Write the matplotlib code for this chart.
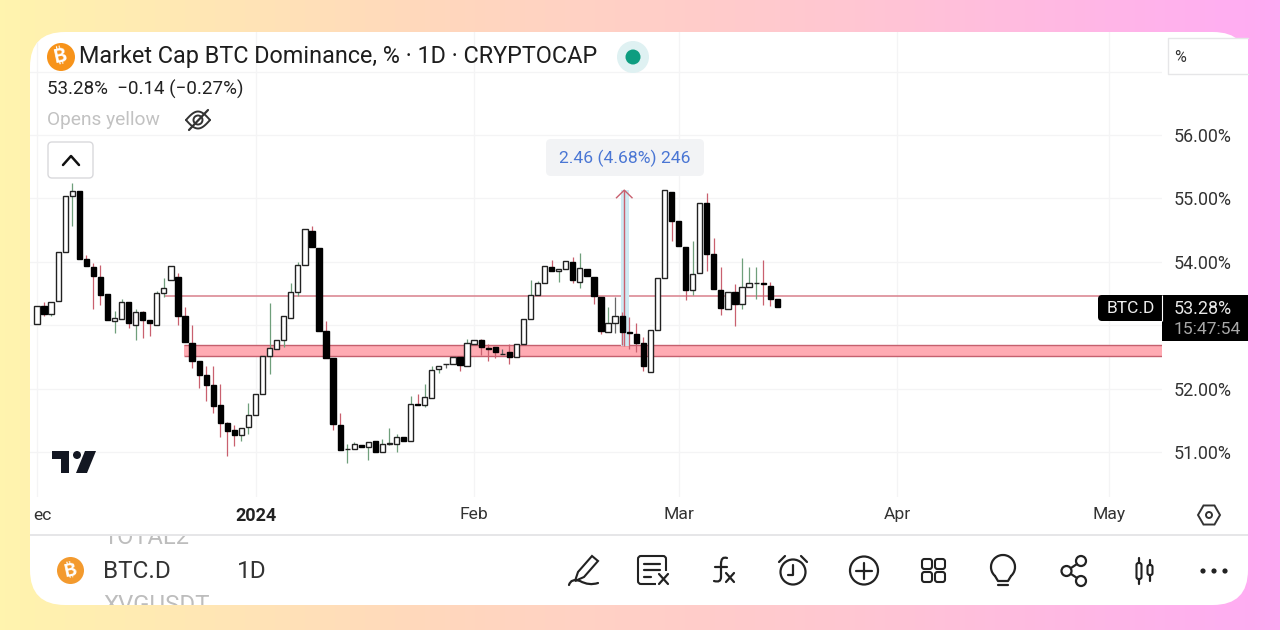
#BTC dominance candlestick screenshot
import numpy as np
import matplotlib
matplotlib.use('Agg')
import matplotlib.pyplot as plt
from matplotlib.colors import LinearSegmentedColormap
from matplotlib.patches import FancyBboxPatch, Circle, Polygon, Rectangle, RegularPolygon, Arc, PathPatch
from matplotlib.path import Path
from matplotlib.transforms import Bbox

plt.rcParams['font.family'] = ['Roboto', 'DejaVu Sans']
plt.rcParams['axes.unicode_minus'] = False
coin_fonts = ['Inter', 'Noto Sans', 'Open Sans', 'Lato', 'Liberation Sans', 'Noto Sans CJK SC', 'DejaVu Sans']

# data, one daily candle from 1 Dec 2023 onwards
opens = [53.02, 53.30, 53.17, 53.38, 54.16, 55.04, 55.11, 54.04, 53.92, 53.76, 53.49, 53.06, 53.09, 53.36, 53.00, 53.20,
         53.08, 53.01, 53.50, 53.71, 53.76, 53.15, 52.72, 52.43, 52.22, 52.05, 51.74, 51.45, 51.34, 51.26, 51.39, 51.59,
         51.91, 52.51, 52.62, 52.77, 53.11, 53.52, 53.95, 54.49, 54.22, 52.91, 52.48, 51.42, 51.04, 51.04, 51.11, 51.08,
         51.17, 51.00, 51.13, 51.12, 51.24, 51.17, 51.75, 51.74, 51.85, 52.31, 52.38, 52.38, 52.50, 52.36, 52.70, 52.76,
         52.64, 52.65, 52.55, 52.57, 52.50, 52.70, 53.09, 53.48, 53.66, 53.92, 53.85, 53.89, 53.99, 53.68, 53.89, 53.76,
         53.45, 52.90, 53.03, 53.14, 52.90, 52.86, 52.72, 52.26, 52.93, 53.75, 55.10, 54.64, 54.24, 53.55, 53.82, 54.92,
         54.12, 53.55, 53.26, 53.52, 53.33, 53.61, 53.67, 53.66, 53.62, 53.41]
highs = [53.30, 53.36, 53.37, 54.16, 55.03, 55.25, 55.11, 54.11, 53.98, 53.95, 53.49, 53.22, 53.41, 53.36, 53.25, 53.23,
         53.08, 53.54, 53.74, 53.93, 53.82, 53.29, 53.01, 52.43, 52.35, 52.36, 52.08, 51.48, 51.43, 51.38, 51.78, 51.91,
         52.51, 53.35, 52.76, 53.15, 53.66, 53.99, 54.52, 54.56, 54.22, 53.07, 52.48, 51.62, 51.12, 51.15, 51.11, 51.16,
         51.17, 51.20, 51.38, 51.28, 51.24, 51.88, 51.91, 52.07, 52.36, 52.36, 52.38, 52.50, 52.50, 52.78, 52.76, 52.78,
         52.71, 52.65, 52.63, 52.71, 52.71, 53.09, 53.72, 53.69, 53.93, 54.03, 53.89, 54.02, 54.07, 54.14, 53.89, 53.76,
         53.45, 53.29, 53.45, 53.21, 53.13, 53.03, 52.82, 52.92, 53.75, 55.13, 55.10, 54.64, 54.24, 54.32, 54.92, 55.08,
         54.38, 53.92, 53.53, 53.65, 54.06, 53.91, 53.91, 54.03, 53.68, 53.41]
lows = [53.02, 53.15, 53.15, 53.38, 54.16, 54.56, 54.05, 53.93, 53.25, 53.32, 53.08, 52.88, 53.09, 52.95, 52.76, 52.80,
        52.83, 53.01, 53.45, 53.71, 53.01, 52.73, 52.33, 52.01, 51.81, 51.61, 51.23, 50.94, 51.10, 51.18, 51.29, 51.59,
        51.91, 52.23, 52.62, 52.65, 53.11, 53.46, 53.95, 54.24, 52.91, 52.49, 51.34, 51.03, 50.82, 51.04, 51.08, 50.88,
        51.00, 51.00, 51.11, 51.00, 51.18, 51.17, 51.74, 51.71, 51.85, 52.24, 52.32, 52.38, 52.27, 52.36, 52.70, 52.53,
        52.44, 52.49, 52.55, 52.38, 52.50, 52.70, 53.09, 53.48, 53.66, 53.85, 53.68, 53.89, 53.66, 53.59, 53.78, 53.34,
        52.86, 52.90, 52.88, 52.69, 52.63, 52.58, 52.28, 52.26, 52.93, 53.75, 54.32, 54.25, 53.39, 53.47, 53.82, 53.86,
        53.57, 53.16, 53.26, 52.98, 53.25, 53.61, 53.41, 53.32, 53.30, 53.28]
closes = [53.30, 53.17, 53.37, 54.16, 55.03, 55.11, 54.05, 53.93, 53.77, 53.47, 53.08, 53.11, 53.36, 53.03, 53.21, 53.08,
          53.04, 53.51, 53.58, 53.93, 53.15, 52.73, 52.44, 52.22, 52.06, 51.73, 51.46, 51.33, 51.27, 51.38, 51.58, 51.91,
          52.51, 52.64, 52.76, 53.15, 53.53, 53.95, 54.52, 54.24, 52.91, 52.49, 51.44, 51.03, 51.05, 51.12, 51.08, 51.16,
          51.00, 51.12, 51.14, 51.23, 51.18, 51.76, 51.74, 51.87, 52.30, 52.36, 52.38, 52.50, 52.37, 52.72, 52.76, 52.65,
          52.63, 52.58, 52.55, 52.50, 52.71, 53.09, 53.48, 53.66, 53.93, 53.85, 53.89, 54.02, 53.71, 53.90, 53.78, 53.46,
          52.91, 53.04, 53.15, 52.90, 52.87, 52.72, 52.35, 52.92, 53.75, 55.13, 54.65, 54.25, 53.56, 53.80, 54.92, 54.13,
          53.57, 53.27, 53.53, 53.33, 53.61, 53.67, 53.67, 53.65, 53.41, 53.28]
grey_wicks = [58, 66, 82]

price_ticks = [51, 52, 53, 54, 55, 56, 57]
price_labels = ['51.00%', '52.00%', '', '54.00%', '55.00%', '56.00%', '']
month_ticks = [0, 31, 62, 91, 122, 152]
month_labels = ['', '2024', 'Feb', 'Mar', 'Apr', 'May']
line_level = 53.46
band_low, band_high = 52.52, 52.69
measure_low, measure_high = 52.67, 55.13

ink = '#131722'
red = '#c9606f'
green = '#6f9f7b'

fig = plt.figure(figsize=(12.8, 6.3), dpi=100)

# gradient page and the white rounded card, pixel coordinates
bg = fig.add_axes([0, 0, 1, 1], zorder=0)
bg.set_xlim(0, 1280)
bg.set_ylim(630, 0)
bg.axis('off')
cmap = LinearSegmentedColormap.from_list('page', ['#fff4ae', '#ffd8bc', '#ffc6d2', '#ffabf5'])
bg.imshow(np.linspace(0, 1, 256).reshape(1, -1), cmap=cmap, aspect='auto', extent=[0, 1280, 630, 0])
card = FancyBboxPatch((30, 32), 1218, 573, boxstyle='round,pad=0,rounding_size=35', mutation_scale=1,
                      fc='white', ec='none')
bg.add_patch(card)

# chart area, x is days since 1 Dec
ax = fig.add_axes([30 / 1280, 1 - 497 / 630, 1132 / 1280, 465 / 630], zorder=1)
ax.patch.set_alpha(0)
ax.set_xlim(-0.99, 159.57)
ax.set_ylim(50.29, 57.624)
for side in ax.spines.values():
    side.set_visible(False)
ax.yaxis.tick_right()
ax.set_yticks(price_ticks, price_labels)
ax.set_xticks(month_ticks, month_labels)
ax.tick_params(axis='y', length=0, pad=8.5, labelsize=12.9, labelcolor='#333333')
ax.tick_params(axis='x', length=0, pad=7.5, labelsize=12.6, labelcolor='#333333')
ax.get_xticklabels()[1].set_fontweight('bold')
ax.get_xticklabels()[1].set_fontsize(13)
ax.get_xticklabels()[1].set_color('#222222')
ax.grid(True, color='#f4f4f5', linewidth=0.9)
ax.set_axisbelow(True)
for line in ax.get_xgridlines() + ax.get_ygridlines():
    line.set_clip_path(card)

# drawn levels
ax.hlines(line_level, 18, 159.57, color='#d9808c', linewidth=1.1, zorder=2)
ax.add_patch(Rectangle((20.9, band_low), 138.67, band_high - band_low, fc='#ffabb3', ec='none', zorder=2))
ax.hlines([band_low, band_high], 20.9, 159.57, color='#c4606e', linewidth=1, zorder=2)

# measure arrow
ax.add_patch(Rectangle((82.84, measure_low), 1.17, measure_high - measure_low, fc='#cfeaf3', ec='none', zorder=2))
ax.vlines(83.3, measure_low, measure_high, color=red, linewidth=1, zorder=2)
ax.plot([82.2, 83.3, 84.4], [measure_high - 0.12, measure_high, measure_high - 0.12], color=red, linewidth=1, zorder=2)

# candles
x = np.arange(len(opens))
o = np.array(opens)
c = np.array(closes)
wick_colors = [green if c[i] >= o[i] else red for i in x]
for i in grey_wicks:
    wick_colors[i] = '#666666'
ax.vlines(x, lows, highs, colors=wick_colors, linewidth=0.9, zorder=3)
up = c >= o
ax.bar(x[up], (c - o)[up], bottom=o[up], width=0.74, color='white', edgecolor='#222222', linewidth=1, zorder=4)
ax.bar(x[~up], (c - o)[~up], bottom=o[~up], width=0.74, color='black', edgecolor='black', linewidth=1, zorder=4)

# everything else of the app window, pixel coordinates
ui = fig.add_axes([0, 0, 1, 1], zorder=2)
ui.set_xlim(0, 1280)
ui.set_ylim(630, 0)
ui.axis('off')


def label(px, py, s, size, color='#222222', **kw):
    kw.setdefault('ha', 'left')
    return ui.text(px, py, s, fontsize=size, color=color, va='center', **kw)


def stroke(xs, ys, lw=1.6, color='#222222'):
    ui.plot(xs, ys, color=color, linewidth=lw, solid_capstyle='round', solid_joinstyle='round')


def box(px, py, w, h, r, fc='none', ec='#222222', lw=1.5):
    ui.add_patch(FancyBboxPatch((px, py), w, h, boxstyle='round,pad=0,rounding_size=%s' % r, fc=fc, ec=ec, linewidth=lw))


def circ(px, py, r, fc='none', ec='#222222', lw=1.6):
    ui.add_patch(Circle((px, py), r, fc=fc, ec=ec, linewidth=lw))


def curve(points, lw=1.6):
    codes = [Path.MOVETO] + [Path.CURVE3] * (len(points) - 1)
    ui.add_patch(PathPatch(Path(points, codes), fc='none', ec='#222222', linewidth=lw, capstyle='round'))


# header
circ(61, 57, 14, fc='#f7931a', ec='none')
label(61, 57, '₿', 14, color='white', ha='center', rotation=12, fontweight='bold', family=coin_fonts)
label(79, 57, 'Market Cap BTC Dominance, % · 1D · CRYPTOCAP', 16.8, color='#1e1e1e')
label(47, 89, '53.28%  −0.14 (−0.27%)', 13.5)
label(47, 120, 'Opens yellow', 13.75, color='#c2c2c2')
circ(633, 57, 16, fc='#dff1f2', ec='none')
circ(633, 57, 7.5, fc='#0e9d80', ec='none')

# crossed eye
ts = np.linspace(0, 1, 30)
stroke(186 + 24 * ts, 120 - 8.5 * np.sin(np.pi * ts), lw=1.4, color='#333333')
stroke(186 + 24 * ts, 120 + 8.5 * np.sin(np.pi * ts), lw=1.4, color='#333333')
circ(198, 120, 4.5, ec='#333333', lw=1.4)
stroke([189, 208], [130, 110], lw=1.6, color='#333333')

# collapse button
box(48, 142, 45, 36, 4, fc='white', ec='#d9d9dc', lw=1)
stroke([63, 71, 79], [165, 156, 165], lw=1.8, color='#111111')

# percent box, open towards the card edge
ui.add_patch(Rectangle((1168, 38), 80, 36, fc='white', ec='none'))
stroke([1248, 1168, 1168, 1248], [38, 38, 74, 74], lw=1, color='#e6e6e8')
label(1174, 57, '%', 11.5, color='#333333')

# measure label
box(546, 139, 158, 37, 5, fc='#f2f3f5', ec='none', lw=0)
label(625, 158, '2.46 (4.68%) 246', 12.6, color='#4a76d4', ha='center')

# right side badges
box(1098, 295, 70, 26, 4, fc='black', ec='none', lw=0)
ui.add_patch(Rectangle((1162, 295), 86, 46, fc='black', ec='none'))
ui.vlines(1161.5, 295, 321, color='white', linewidth=0.8)
label(1107, 308.5, 'BTC.D', 12.5, color='#eeeeee')
label(1174, 308.5, '53.28%', 12.9, color='#e8e8e8')
label(1174, 329.5, '15:47:54', 12.6, color='#a8a8a8')

# TV logo
ui.add_patch(Polygon([(52, 451), (69, 451), (69, 473), (61, 473), (61, 459), (52, 459)], fc=ink, ec='none'))
circ(77, 455, 4, fc=ink, ec='none')
ui.add_patch(Polygon([(85, 451), (96, 451), (87, 473), (76, 473)], fc=ink, ec='none'))

# axis leftovers
label(33, 515, 'ec', 12.6, color='#333333')
ui.add_patch(RegularPolygon((1209, 515), 6, radius=11, fc='none', ec='#333333', linewidth=1.4, orientation=np.pi / 2))
circ(1209, 515, 3, ec='#333333', lw=1.4)

# bottom bar, symbol list scrolled behind the card edges
ui.hlines(535, 30, 1248, color='#e2e2e4', linewidth=1.2)
clip_top = Bbox([[0, 0], [1280, 630 - 535.5]])
clip_bottom = Bbox([[0, 630 - 605], [1280, 630]])
top_name = label(103, 538, 'TOTAL2', 17, color='#bdbdbd')
bottom_name = label(103, 606, 'XVGUSDT', 17.3, color='#bdbdbd')
top_name.set_clip_on(True)
top_name.set_clip_box(clip_top)
bottom_name.set_clip_on(True)
bottom_name.set_clip_box(clip_bottom)
circ(70.5, 570.5, 13.5, fc='#f39a2e', ec='none')
label(70.5, 570.5, '₿', 13.5, color='white', ha='center', rotation=12, fontweight='bold', family=coin_fonts)
label(103, 571, 'BTC.D', 17.6, color='#333333')
label(237, 571, '1D', 17.6, color='#333333')

# toolbar icons
# pencil
ui.add_patch(Polygon([(575, 581), (578, 572), (592, 556), (598, 561), (584, 577)], fc='none', ec='#222222', linewidth=1.5))
curve([(569, 585), (571, 578), (580, 581), (589, 586), (598, 583)])
# notes
box(638, 556, 28, 28, 3)
ui.add_patch(Rectangle((656, 571), 14, 15, fc='white', ec='none'))
stroke([644, 660], [564, 564])
stroke([644, 660], [570, 570])
stroke([644, 651], [577, 577])
stroke([659, 668], [574, 584])
stroke([668, 659], [574, 584])
# fx
curve([(727, 558), (721, 556), (721, 564)])
stroke([721, 721], [564, 577])
curve([(721, 577), (721, 583), (714, 581)])
stroke([715, 727], [567, 567])
stroke([726, 734], [573, 582])
stroke([734, 726], [573, 582])
# alarm
circ(793, 572, 12.5)
stroke([793, 793, 788], [565, 575, 575])
stroke([779, 785], [562, 556])
stroke([807, 801], [562, 556])
# plus
circ(864, 570.5, 14)
stroke([856, 872], [570.5, 570.5])
stroke([864, 864], [562.5, 578.5])
# grid
for bx, by in [(922, 559), (935, 559), (922, 572), (935, 572)]:
    box(bx, by, 10, 10, 2.5)
# bulb
ui.add_patch(Arc((1003, 567), 24, 24, theta1=130, theta2=50, color='#222222', linewidth=1.6))
stroke([995, 998, 1008, 1011], [576, 581, 581, 576])
stroke([998, 1008], [584.5, 584.5])
# share
circ(1066.5, 571, 5)
circ(1081, 561, 5)
circ(1081, 581, 5)
stroke([1071, 1077], [568, 564])
stroke([1071, 1077], [574, 578])
# candles icon
box(1136.5, 563, 5, 16, 2)
box(1147.5, 565, 5, 10, 2)
stroke([1139, 1139], [558, 563])
stroke([1139, 1139], [579, 584])
stroke([1150, 1150], [560, 565])
stroke([1150, 1150], [575, 581])
# more
for dx in [1203, 1214, 1225]:
    circ(dx, 571, 2.6, fc='#222222', ec='none')

fig.savefig('out.png', dpi=100)
